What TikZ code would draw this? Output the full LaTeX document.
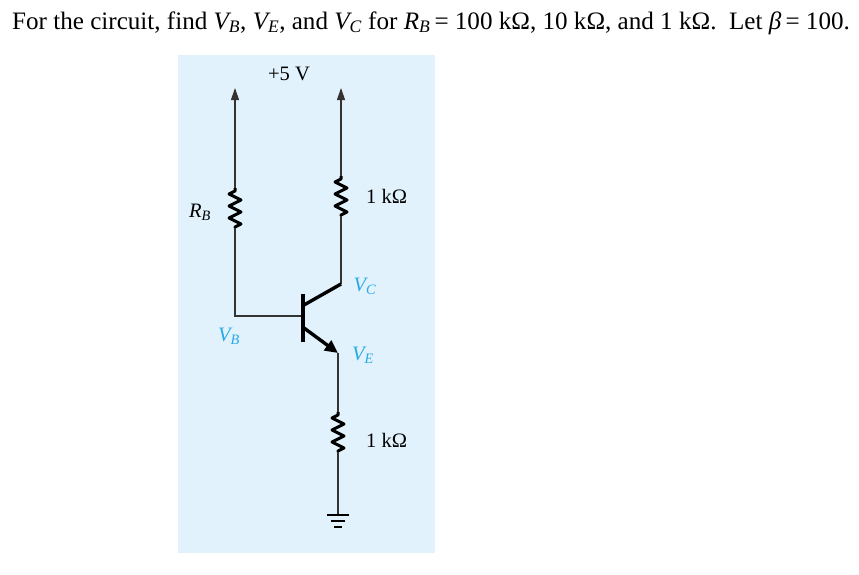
\documentclass[tikz,border=0pt]{standalone}
\usepackage{fontspec}
\setmainfont{Liberation Serif}
\usetikzlibrary{arrows.meta}
\definecolor{bg}{RGB}{225,242,252}
\definecolor{lblue}{RGB}{40,170,230}
\begin{document}
\begin{tikzpicture}[x=1pt,y=-1pt,
  wire/.style={line width=1.1pt,black!80},
  thick wire/.style={line width=3.4pt},
  lbl/.style={font=\fontsize{20.5}{24}\selectfont,inner sep=0pt},
  vlbl/.style={font=\fontsize{20.5}{24}\selectfont,inner sep=0pt,text=lblue},
  res/.style={line width=3pt,line join=round}]
\useasboundingbox (0,0) rectangle (859,574);
\fill[bg] (178,55) rectangle (435,553);
\node[font=\fontsize{25.1}{28}\selectfont,inner sep=0pt,anchor=west] (title) at (12,23) {For the circuit, find \textit{V\textsubscript{B}}, \textit{V\textsubscript{E}}, and \textit{V\textsubscript{C}} for \textit{R\textsubscript{B}}\,= 100 kΩ, 10 kΩ, and 1 kΩ.\ \ Let \textit{β}\,= 100.};
\node[lbl] (vcc) at (289,74) {+5 V};
\coordinate (la) at (235,88);
\coordinate (lr1) at (235,188);
\coordinate (lr2) at (235,228);
\coordinate (lc) at (235,316);
\coordinate (base) at (303,316);
\coordinate (ra) at (341,88);
\coordinate (rr1) at (341,176);
\coordinate (rr2) at (341,216);
\coordinate (cc) at (341,284);
\coordinate (ec) at (338,353);
\coordinate (er1) at (338,412);
\coordinate (er2) at (338,452);
\coordinate (gnd) at (338,514);
\draw[wire,-{Triangle[length=12pt,width=8pt]}] (lr1) -- (la);
\draw[res] (lr1) -- ++(0,3) -- ++(-6,3) -- ++(12,6) -- ++(-12,6) -- ++(12,6) -- ++(-12,6) -- ++(12,6) -- ++(-6,3) -- (lr2);
\draw[wire] (lr2) -- (lc) -- (base);
\draw[wire,-{Triangle[length=12pt,width=8pt]}] (rr1) -- (ra);
\draw[res] (rr1) -- ++(0,3) -- ++(-6,3) -- ++(12,6) -- ++(-12,6) -- ++(12,6) -- ++(-12,6) -- ++(12,6) -- ++(-6,3) -- (rr2);
\draw[wire] (rr2) -- (cc);
\draw[line width=3.6pt] (303,294) -- (303,342);
\draw[thick wire] (304,305) -- (cc);
\draw[thick wire,-{Triangle[length=13pt,width=12pt]}] (304,328) -- (ec);
\draw[wire] (ec) -- (er1);
\draw[res] (er1) -- ++(0,3) -- ++(-6,3) -- ++(12,6) -- ++(-12,6) -- ++(12,6) -- ++(-12,6) -- ++(12,6) -- ++(-6,3) -- (er2);
\draw[wire] (er2) -- (gnd);
\draw[line width=2.8pt] (327,515) -- (349,515);
\draw[line width=2.6pt] (331,521) -- (345,521);
\draw[line width=2.4pt] (334,527) -- (342,527);
\node[lbl] (rb) at (200,212) {\textit{R\textsubscript{B}}};
\node[lbl,anchor=west] (rc) at (366,196) {1 kΩ};
\node[lbl,anchor=west] (re) at (366,440) {1 kΩ};
\node[vlbl] (vc) at (365,286) {\textit{V\textsubscript{C}}};
\node[vlbl] (vb) at (229,336) {\textit{V\textsubscript{B}}};
\node[vlbl] (ve) at (363,355) {\textit{V\textsubscript{E}}};
\end{tikzpicture}
\end{document}
